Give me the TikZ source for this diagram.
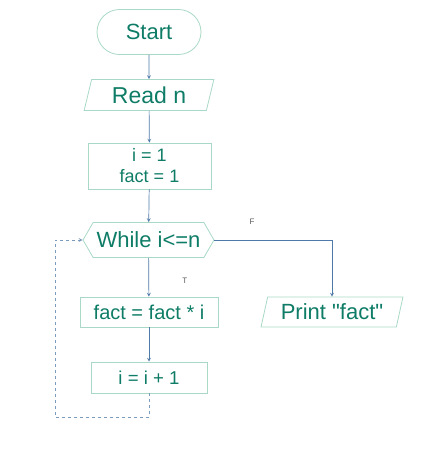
\documentclass[tikz,border=0pt]{standalone}
\usepackage{fontspec}
\setmainfont{Liberation Sans}
\usetikzlibrary{arrows,shapes.geometric,shapes.misc,shapes.symbols}
\definecolor{boxline}{HTML}{A9D9C6}
\definecolor{boxtext}{HTML}{0E7C66}
\definecolor{flowline}{HTML}{4F79A8}
\tikzset{
	block/.style={draw=boxline,text=boxtext,line width=0.8pt,inner sep=0pt,align=center},
	flow/.style={draw=flowline,line width=0.7pt,-stealth},
	tag/.style={text=black!65,font=\fontsize{8}{9}\selectfont},
}
\newcommand{\fs}[1]{\fontsize{#1}{#1}\selectfont}

\begin{document}
\begin{tikzpicture}[x=1pt,y=-1pt]
				\useasboundingbox (0,0) rectangle (440,456);
				\node[block,rounded rectangle,minimum width=104pt,minimum height=45pt,font=\fs{22}] (start) at (149,32) {Start};
				\node[block,trapezium,trapezium left angle=74,trapezium right angle=106,trapezium stretches=true,minimum width=130pt,minimum height=31pt,font=\fs{23}] (read) at (149,95) {Read n};
				\node[block,rectangle,minimum width=123pt,minimum height=46pt,font=\fontsize{18}{21}\selectfont] (init) at (149.5,166) {i = 1\\fact = 1};
				\node[block,signal,signal to=west and east,signal pointer angle=120,minimum width=131pt,minimum height=35pt,font=\fs{22}] (loop) at (148.5,240) {While i<=n};
				\node[block,rectangle,minimum width=138pt,minimum height=30pt,font=\fs{20}] (body) at (149,312) {fact = fact * i};
				\node[block,rectangle,minimum width=116pt,minimum height=31pt,font=\fs{18.6}] (incr) at (149,377.5) {i = i + 1};
				\node[block,trapezium,trapezium left angle=72,trapezium right angle=108,trapezium stretches=true,minimum width=142pt,minimum height=30pt,font=\fs{22}] (print) at (332,312) {Print \textquotedbl fact\textquotedbl};
				\coordinate (back) at (55,417);
				\draw[flow] (start) -- (read);
				\draw[flow] (read) -- (init);
				\draw[flow] (init) -- (loop);
				\draw[flow] (loop) -- node[tag,right=30pt,yshift=-3pt]{T} (body);
				\draw[flow] (loop.east) -| node[tag,pos=0.16,above=12pt]{F} (print.north);
				\draw[flow] (body) -- (incr);
				\draw[flow,flowline!75,dashed] (incr.south) |- (back) |- (loop.west);
			\end{tikzpicture}
\end{document}
